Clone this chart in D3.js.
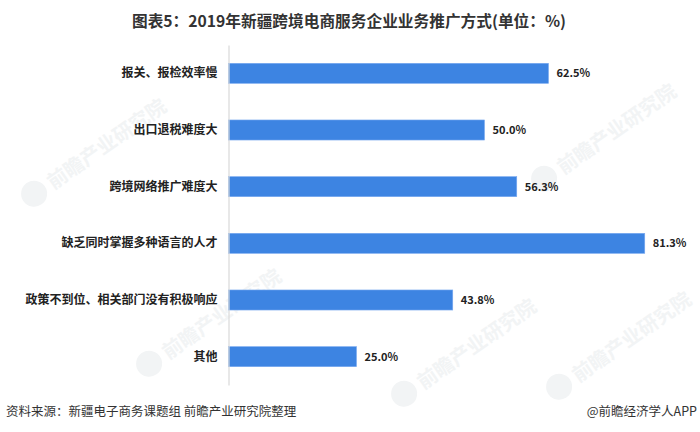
<!DOCTYPE html>
<html><head><meta charset="utf-8">
<script src="https://cdn.jsdelivr.net/npm/d3@7"></script>
<style>body{margin:0;background:#fff}svg{display:block}</style>
</head><body>
<svg id="c" width="700" height="432"></svg>
<script>
const categories = ["报关、报检效率慢","出口退税难度大","跨境网络推广难度大","缺乏同时掌握多种语言的人才","政策不到位、相关部门没有积极响应","其他"];
const values = [62.5, 50.0, 56.3, 81.3, 43.8, 25.0];
const valueLabels = ["62.5%","50.0%","56.3%","81.3%","43.8%","25.0%"];
const titleText = "图表5：2019年新疆跨境电商服务企业业务推广方式(单位：%)";
const sourceText = "资料来源：新疆电子商务课题组 前瞻产业研究院整理";
const creditText = "@前瞻经济学人APP";
const watermarkText = "前瞻产业研究院";

const svg = d3.select("#c");
const font = "'Noto Sans CJK SC','Microsoft YaHei',sans-serif";

// faint watermarks, kept inside the frame
const wm = [[50,185],[560,170],[165,355],[420,385],[575,378]];
wm.forEach(([x,y])=>{
  const g = svg.append("g").attr("transform",`translate(${x},${y}) rotate(-35)`);
  g.append("circle").attr("cx",-18).attr("cy",-2).attr("r",13).attr("fill","#f2f4f5");
  g.append("text").attr("x",0).attr("y",6).attr("font-family",font).attr("font-size",20).attr("font-weight","bold").attr("fill","#f2f4f5").text(watermarkText);
});

const x = d3.scaleLinear().domain([0, 100]).range([228.5, 228.5 + 512]);
const y = d3.scaleBand().domain(categories).range([45, 385]).paddingInner(0.646).paddingOuter(0.323);

svg.append("text").attr("x",349).attr("y",27).attr("text-anchor","middle")
  .attr("font-family",font).attr("font-size",15.7).attr("font-weight","bold").attr("fill","#333").text(titleText);

svg.selectAll("rect.bar").data(values).join("rect").attr("class","bar")
  .attr("x",x(0)).attr("y",(d,i)=>y(categories[i]))
  .attr("width",d=>x(d)-x(0)).attr("height",y.bandwidth())
  .attr("fill","#3d84e2").attr("stroke","#7aaaf0").attr("stroke-width",0.6);

const ax = svg.append("g").attr("transform",`translate(${x(0)},0)`)
  .call(d3.axisLeft(y).tickSize(0).tickPadding(11));
ax.select(".domain").attr("stroke","#d9d9d9").attr("stroke-width",1.2);
ax.selectAll("text").attr("font-family",font).attr("font-size",12).attr("font-weight","bold").attr("fill","#222");

svg.selectAll("text.val").data(values).join("text").attr("class","val")
  .attr("x",d=>x(d)+8).attr("y",(d,i)=>y(categories[i])+y.bandwidth()/2+4)
  .attr("font-family",font).attr("font-size",11).attr("font-weight","bold").attr("fill","#222")
  .text((d,i)=>valueLabels[i]);

svg.append("text").attr("x",6).attr("y",416).attr("font-family",font).attr("font-size",12.5).attr("fill","#333").text(sourceText);
svg.append("text").attr("x",697).attr("y",416).attr("text-anchor","end").attr("font-family",font).attr("font-size",12.5).attr("fill","#333").text(creditText);
</script>
</body></html>
